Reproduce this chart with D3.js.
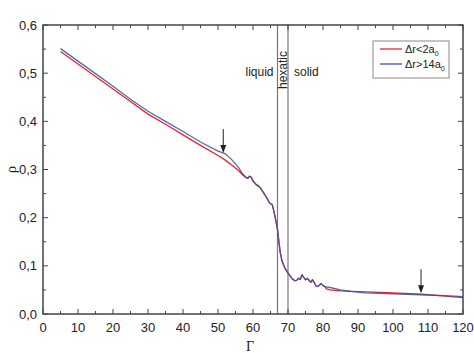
<!DOCTYPE html>
<html><head><meta charset="utf-8">
<script src="https://cdn.jsdelivr.net/npm/d3@7"></script>
<style>body{margin:0;background:#fff}svg{display:block}</style>
</head><body>
<svg id="c" width="474" height="353"></svg>
<script>
const redGamma = [5,10,15,20,25,30,35,40,45,50,52,54,56,57,58];
const redRho   = [0.545,0.519,0.493,0.467,0.441,0.415,0.394,0.372,0.350,0.329,0.320,0.309,0.297,0.289,0.283];
const blueGamma = [5,10,15,20,25,30,35,40,45,50,52,54,56,57,58];
const blueRho   = [0.551,0.525,0.499,0.473,0.446,0.421,0.400,0.379,0.357,0.338,0.333,0.320,0.303,0.291,0.284];
const midGamma = [58.5,59,59.5,60,60.5,61,61.5,62,63,64,64.8,65.5,66,66.5,67,67.4,67.8,68.3,69,69.7,70.5,71.2,72,72.5,73,73.5,74,74.5,75,75.5,76,76.5,77,77.5,78,78.5,79,79.5,80,80.5];
const midRho   = [0.282,0.286,0.284,0.276,0.272,0.268,0.266,0.263,0.252,0.240,0.230,0.227,0.212,0.195,0.175,0.150,0.127,0.110,0.097,0.088,0.080,0.073,0.069,0.070,0.074,0.072,0.081,0.076,0.071,0.074,0.070,0.066,0.071,0.065,0.058,0.057,0.060,0.063,0.059,0.057];
const redTailGamma = [81,82,85,88,92,100,108,115,120];
const redTailRho   = [0.052,0.050,0.048,0.047,0.046,0.044,0.041,0.037,0.034];
const blueTailGamma = [82,85,88,92,100,108,115,120];
const blueTailRho   = [0.055,0.050,0.047,0.044,0.042,0.040,0.038,0.036];
const xTicks = [0,10,20,30,40,50,60,70,80,90,100,110,120];
const yTicks = [0,0.1,0.2,0.3,0.4,0.5,0.6];
const yTickLabels = ["0,0","0,1","0,2","0,3","0,4","0,5","0,6"];
const phaseLines = [67,70];
const arrowGamma = [51.5,108];
const arrowRho = [0.384,0.093];

const svg = d3.select("#c");
const L=43,R=463,T=25,B=314;
const x = d3.scaleLinear().domain([0,120]).range([L,R]);
const y = d3.scaleLinear().domain([0,0.6]).range([B,T]);
const axisCol="#444";

// phase boundary lines
phaseLines.forEach(g=>{
  svg.append("line").attr("x1",x(g)).attr("x2",x(g)).attr("y1",T).attr("y2",B)
    .attr("stroke","#777").attr("stroke-width",1.2);
});

function series(gs, rs){ return gs.map((g,i)=>[g,rs[i]]); }
const mid = series(midGamma, midRho);
const redData = series(redGamma, redRho).concat(mid, series(redTailGamma, redTailRho));
const blueData = series(blueGamma, blueRho).concat(mid, series(blueTailGamma, blueTailRho));
const line = d3.line().x(d=>x(d[0])).y(d=>y(d[1]));
svg.append("path").attr("d",line(redData)).attr("fill","none").attr("stroke","#e3262b").attr("stroke-width",1.3);
svg.append("path").attr("d",line(blueData)).attr("fill","none").attr("stroke","#3b4fa0").attr("stroke-width",1.3).attr("stroke-opacity",0.85);

// arrows
arrowGamma.forEach((g,i)=>{
  const x0=x(g), y0=y(arrowRho[i]), y1=y0+24;
  svg.append("line").attr("x1",x0).attr("x2",x0).attr("y1",y0).attr("y2",y1-6).attr("stroke","#222").attr("stroke-width",1);
  svg.append("path").attr("d",`M${x0-3},${y1-8}L${x0+3},${y1-8}L${x0},${y1}Z`).attr("fill","#222");
});

// axes (ticks inward)
const gx = svg.append("g");
const minorX = d3.range(5,120,10);
const minorY = d3.range(0.05,0.6,0.1);
xTicks.forEach(t=>{
  gx.append("line").attr("x1",x(t)).attr("x2",x(t)).attr("y1",B).attr("y2",B-5).attr("stroke",axisCol);
  gx.append("line").attr("x1",x(t)).attr("x2",x(t)).attr("y1",T).attr("y2",T+5).attr("stroke",axisCol);
  gx.append("text").attr("x",x(t)).attr("y",B+18).attr("text-anchor","middle")
    .attr("font-family","Liberation Sans, Arial, sans-serif").attr("font-size",13).attr("fill","#222").text(t);
});
minorX.forEach(t=>{
  gx.append("line").attr("x1",x(t)).attr("x2",x(t)).attr("y1",B).attr("y2",B-3).attr("stroke",axisCol);
  gx.append("line").attr("x1",x(t)).attr("x2",x(t)).attr("y1",T).attr("y2",T+3).attr("stroke",axisCol);
});
yTicks.forEach((t,i)=>{
  gx.append("line").attr("x1",L).attr("x2",L+5).attr("y1",y(t)).attr("y2",y(t)).attr("stroke",axisCol);
  gx.append("line").attr("x1",R).attr("x2",R-5).attr("y1",y(t)).attr("y2",y(t)).attr("stroke",axisCol);
  gx.append("text").attr("x",L-6).attr("y",y(t)+4.5).attr("text-anchor","end")
    .attr("font-family","Liberation Sans, Arial, sans-serif").attr("font-size",13).attr("fill","#222").text(yTickLabels[i]);
});
minorY.forEach(t=>{
  gx.append("line").attr("x1",L).attr("x2",L+3).attr("y1",y(t)).attr("y2",y(t)).attr("stroke",axisCol);
  gx.append("line").attr("x1",R).attr("x2",R-3).attr("y1",y(t)).attr("y2",y(t)).attr("stroke",axisCol);
});
svg.append("rect").attr("x",L).attr("y",T).attr("width",R-L).attr("height",B-T)
  .attr("fill","none").attr("stroke",axisCol).attr("stroke-width",1.5);

// axis titles
svg.append("text").attr("x",250).attr("y",351).attr("text-anchor","middle")
  .attr("font-family","Liberation Serif, Times New Roman, serif").attr("font-size",14).attr("fill","#222").text("Γ");
svg.append("text").attr("transform",`translate(16,${(T+B)/2}) rotate(-90)`).attr("text-anchor","middle")
  .attr("font-family","Liberation Serif, Times New Roman, serif").attr("font-size",15).attr("fill","#222").text("ρ");

// phase labels
const lf = "Liberation Sans, Arial, sans-serif";
svg.append("text").attr("x",x(67)-4).attr("y",76).attr("text-anchor","end").attr("font-family",lf).attr("font-size",12).attr("fill","#222").text("liquid");
svg.append("text").attr("x",x(70)+6).attr("y",76).attr("text-anchor","start").attr("font-family",lf).attr("font-size",12).attr("fill","#222").text("solid");
svg.append("text").attr("transform",`translate(${(x(67)+x(70))/2+4},70) rotate(-90)`).attr("text-anchor","middle").attr("font-family",lf).attr("font-size",12).attr("fill","#222").text("hexatic");

// legend
const lg = svg.append("g");
lg.append("rect").attr("x",373).attr("y",41).attr("width",76).attr("height",37).attr("fill","#fff").attr("stroke","#888").attr("stroke-width",1);
const legItems = [{c:"#e3262b", t:"Δr<2a", y:49},{c:"#3b4fa0", t:"Δr>14a", y:64}];
legItems.forEach(d=>{
  lg.append("line").attr("x1",380).attr("x2",402).attr("y1",d.y).attr("y2",d.y).attr("stroke",d.c).attr("stroke-width",1.3);
  const tx = lg.append("text").attr("x",405).attr("y",d.y+4).attr("font-family",lf).attr("font-size",11).attr("fill","#222");
  tx.append("tspan").text(d.t);
  tx.append("tspan").attr("dy",3).attr("font-size",7).text("0");
});
</script>
</body></html>
